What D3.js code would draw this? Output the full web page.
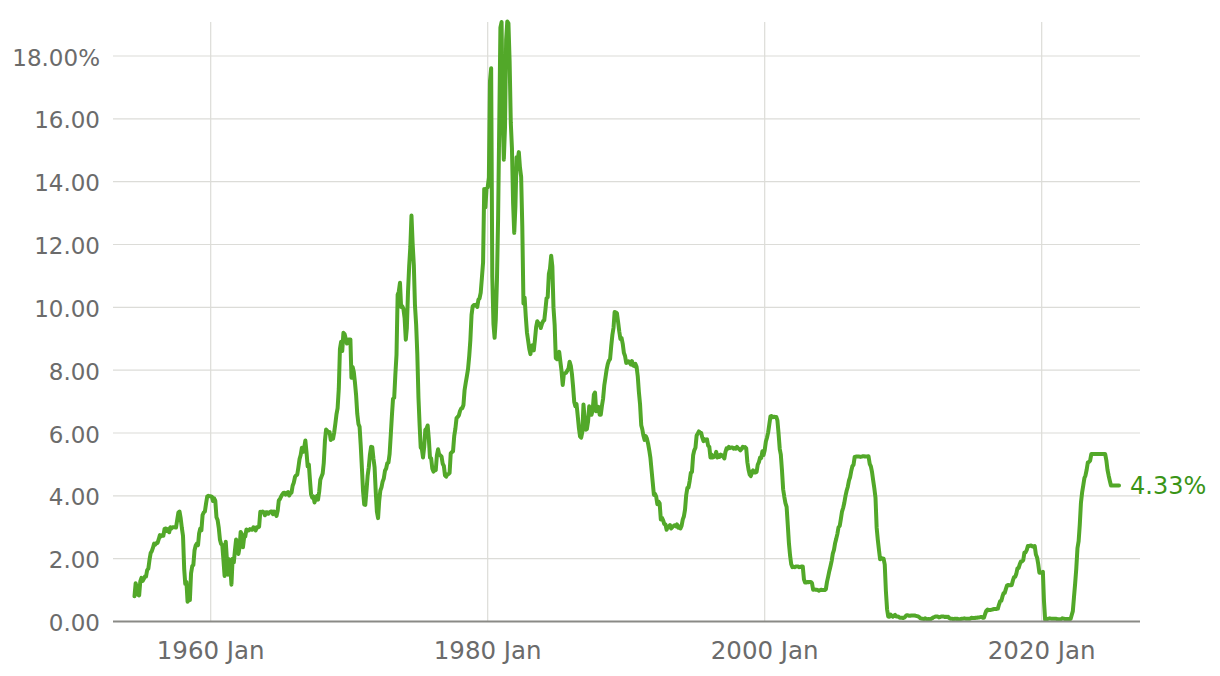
<!DOCTYPE html>
<html><head><meta charset="utf-8">
<script src="https://cdn.jsdelivr.net/npm/d3@7"></script>
<style>
html,body{margin:0;padding:0;background:#fff;}
svg{display:block;}
text{font-family:"DejaVu Sans",sans-serif;}
</style></head>
<body>
<svg id="chart" width="1220" height="676"></svg>
<script>
// Effective federal funds rate, monthly, starting July 1954
const startMonth = "1954-07";
const rates1950s = [
 0.80,1.22,1.07,0.85,0.83,1.28,
 1.39,1.29,1.35,1.43,1.43,1.64,1.68,1.96,2.18,2.24,2.35,2.48,
 2.45,2.50,2.50,2.62,2.75,2.71,2.75,2.73,2.95,2.96,2.88,2.94,
 2.84,3.00,2.96,3.00,3.00,3.00,2.99,3.24,3.47,3.50,3.28,2.98,
 2.72,1.67,1.20,1.26,0.63,0.93,0.68,1.53,1.76,1.80,2.27,2.42,
 2.48,2.43,2.80,2.96,2.90,3.39,3.47,3.50,3.76,3.98,4.00,3.99];
const rates1960s = [
 3.99,3.97,3.84,3.92,3.85,3.32,3.23,2.98,2.60,2.47,2.44,1.98,
 1.45,2.54,2.02,1.49,1.98,1.73,1.17,2.00,1.88,2.26,2.61,2.33,
 2.15,2.37,2.85,2.78,2.36,2.68,2.71,2.93,2.90,2.90,2.94,2.93,
 2.92,3.00,2.98,2.90,3.00,2.99,3.02,3.49,3.48,3.50,3.48,3.38,
 3.48,3.48,3.43,3.47,3.50,3.50,3.42,3.50,3.45,3.36,3.52,3.85,
 3.90,3.98,4.04,4.09,4.10,4.04,4.09,4.12,4.01,4.08,4.10,4.32,
 4.42,4.60,4.65,4.67,4.90,5.17,5.30,5.53,5.40,5.53,5.76,5.40,
 4.94,5.00,4.53,4.05,3.94,3.98,3.79,3.90,3.99,3.88,4.13,4.51,
 4.61,4.71,5.05,5.76,6.11,6.07,6.02,6.03,5.78,5.91,5.82,6.02,
 6.30,6.61,6.79,7.41,8.67,8.90,8.61,9.19,9.15,9.00,8.85,8.97];
const rates1970s = [
 8.98,8.98,7.76,8.10,7.95,7.61,7.21,6.61,6.29,6.20,5.60,4.90,
 4.14,3.72,3.71,4.16,4.63,4.91,5.31,5.56,5.55,5.20,4.91,4.14,
 3.50,3.29,3.83,4.17,4.27,4.46,4.55,4.80,4.87,5.04,5.06,5.33,
 5.94,6.58,7.09,7.12,7.84,8.49,10.40,10.50,10.78,10.01,10.03,9.95,
 9.65,8.97,9.35,10.51,11.31,11.93,12.92,12.01,11.34,10.06,9.45,8.53,
 7.13,6.24,5.54,5.49,5.22,5.55,6.10,6.14,6.24,5.82,5.22,5.20,
 4.87,4.77,4.84,4.82,5.29,5.48,5.31,5.29,5.25,5.02,4.95,4.65,
 4.61,4.68,4.69,4.73,5.35,5.39,5.42,5.90,6.14,6.47,6.51,6.56,
 6.70,6.78,6.79,6.89,7.36,7.60,7.81,8.04,8.45,8.96,9.76,10.03,
 10.07,10.06,10.09,10.01,10.24,10.29,10.47,10.94,11.43,13.77,13.18,13.78];
const rates1980s = [
 13.82,14.13,17.19,17.61,10.98,9.47,9.03,9.61,10.87,12.81,15.85,18.90,
 19.08,15.93,14.70,15.72,18.52,19.10,19.04,17.82,15.87,15.08,13.31,12.37,
 13.22,14.78,14.68,14.94,14.45,14.15,12.59,10.12,10.31,9.71,9.20,8.95,
 8.68,8.51,8.77,8.80,8.63,8.98,9.37,9.56,9.45,9.48,9.34,9.47,
 9.56,9.59,9.91,10.29,10.32,11.06,11.23,11.64,11.30,9.99,9.43,8.38,
 8.35,8.50,8.58,8.27,7.97,7.53,7.88,7.90,7.92,7.99,8.05,8.27,
 8.14,7.86,7.48,6.99,6.85,6.92,6.56,6.17,5.89,5.85,6.04,6.91,
 6.43,6.10,6.13,6.37,6.85,6.73,6.58,6.73,7.22,7.29,6.69,6.77,
 6.83,6.58,6.58,6.87,7.09,7.51,7.75,8.01,8.19,8.30,8.35,8.76,
 9.12,9.36,9.85,9.84,9.81,9.53,9.24,8.99,9.02,8.84,8.55,8.45];
const rates1990s = [
 8.23,8.24,8.28,8.26,8.18,8.29,8.15,8.13,8.20,8.11,7.81,7.31,
 6.91,6.25,6.12,5.91,5.78,5.90,5.82,5.66,5.45,5.21,4.81,4.43,
 4.03,4.06,3.98,3.73,3.82,3.76,3.25,3.30,3.22,3.10,3.09,2.92,
 3.02,3.03,3.07,2.96,3.00,3.04,3.06,3.03,3.09,2.99,3.02,2.96,
 3.05,3.25,3.34,3.56,4.01,4.25,4.26,4.47,4.73,4.76,5.29,5.45,
 5.53,5.92,5.98,6.05,6.01,6.00,5.85,5.74,5.80,5.76,5.80,5.60,
 5.56,5.22,5.31,5.22,5.24,5.27,5.40,5.22,5.30,5.24,5.31,5.29,
 5.25,5.19,5.39,5.51,5.50,5.56,5.52,5.54,5.54,5.50,5.52,5.50,
 5.56,5.51,5.49,5.45,5.49,5.56,5.54,5.55,5.51,5.07,4.83,4.68,
 4.63,4.76,4.81,4.74,4.74,4.76,4.99,5.07,5.22,5.20,5.42,5.30];
const rates2000s = [
 5.45,5.73,5.85,6.02,6.27,6.53,6.54,6.50,6.52,6.51,6.51,6.40,
 5.98,5.49,5.31,4.80,4.21,3.97,3.77,3.65,3.07,2.49,2.09,1.82,
 1.73,1.74,1.73,1.75,1.75,1.75,1.73,1.74,1.75,1.75,1.34,1.24,
 1.24,1.26,1.25,1.26,1.26,1.22,1.01,1.03,1.01,1.01,1.00,0.98,
 1.00,1.01,1.00,1.00,1.00,1.03,1.26,1.43,1.61,1.76,1.93,2.16,
 2.28,2.50,2.63,2.79,3.00,3.04,3.26,3.50,3.62,3.78,4.00,4.16,
 4.29,4.49,4.59,4.79,4.94,4.99,5.24,5.25,5.25,5.25,5.25,5.24,
 5.25,5.26,5.26,5.25,5.25,5.25,5.26,5.02,4.94,4.76,4.49,4.24,
 3.94,2.98,2.61,2.28,1.98,2.00,2.01,2.00,1.81,0.97,0.39,0.16,
 0.15,0.22,0.18,0.15,0.18,0.21,0.16,0.16,0.15,0.12,0.12,0.12];
const rates2010s = [
 0.11,0.13,0.16,0.20,0.20,0.18,0.18,0.19,0.19,0.19,0.19,0.18,
 0.17,0.16,0.14,0.10,0.09,0.09,0.07,0.10,0.08,0.07,0.08,0.07,
 0.08,0.10,0.13,0.14,0.16,0.16,0.16,0.13,0.14,0.16,0.16,0.16,
 0.14,0.15,0.14,0.15,0.11,0.09,0.09,0.08,0.08,0.09,0.08,0.09,
 0.07,0.07,0.08,0.09,0.09,0.10,0.09,0.09,0.09,0.09,0.09,0.12,
 0.11,0.11,0.11,0.12,0.12,0.13,0.13,0.14,0.14,0.12,0.12,0.24,
 0.34,0.38,0.36,0.37,0.37,0.38,0.39,0.40,0.40,0.40,0.41,0.54,
 0.65,0.66,0.79,0.90,0.91,1.04,1.15,1.16,1.15,1.15,1.16,1.30,
 1.41,1.42,1.51,1.69,1.70,1.82,1.91,1.91,1.95,2.19,2.20,2.27,
 2.40,2.40,2.41,2.42,2.39,2.38,2.40,2.13,2.04,1.83,1.55,1.55];
const rates2020s = [
 1.55,1.58,0.65,0.05,0.05,0.08,0.09,0.10,0.09,0.09,0.09,0.09,
 0.09,0.08,0.07,0.07,0.06,0.08,0.10,0.09,0.08,0.08,0.08,0.08,
 0.08,0.08,0.20,0.33,0.77,1.21,1.68,2.33,2.56,3.08,3.78,4.10,
 4.33,4.57,4.65,4.83,5.06,5.08,5.12,5.33,5.33,5.33,5.33,5.33,
 5.33,5.33,5.33,5.33,5.33,5.33,5.33,5.33,5.13,4.83,4.64,4.48,
 4.33,4.33,4.33,4.33,4.33,4.33,4.33,4.33];

const yTicks = [0,2,4,6,8,10,12,14,16,18];
const yTickLabels = ["0.00","2.00","4.00","6.00","8.00","10.00","12.00","14.00","16.00","18.00%"];
const xTickYears = [1960,1980,2000,2020];
const xTickLabels = ["1960 Jan","1980 Jan","2000 Jan","2020 Jan"];
const lastLabel = "4.33%";

const values = [].concat(rates1950s,rates1960s,rates1970s,rates1980s,rates1990s,rates2000s,rates2010s,rates2020s);
const parseMonth = d3.timeParse("%Y-%m");
const t0 = parseMonth(startMonth);
const data = values.map((v,i)=>({date:d3.timeMonth.offset(t0,i), value:v}));

const svg = d3.select("#chart");
const plotLeft = 113, plotRight = 1140, plotTop = 22, plotBottom = 621.5;

const x = d3.scaleTime()
  .domain([new Date(1960,0,1), new Date(2020,0,1)])
  .range([210.7, 1041.7]);
const y = d3.scaleLinear().domain([0,18]).range([621.5, 56]);

// horizontal gridlines
svg.append("g").selectAll("line").data(yTicks.filter(d=>d>0)).join("line")
  .attr("x1",plotLeft).attr("x2",plotRight)
  .attr("y1",d=>y(d)).attr("y2",d=>y(d))
  .attr("stroke","#dcdcd8").attr("stroke-width",1.2);

// vertical gridlines
svg.append("g").selectAll("line").data(xTickYears).join("line")
  .attr("x1",d=>x(new Date(d,0,1))).attr("x2",d=>x(new Date(d,0,1)))
  .attr("y1",plotTop).attr("y2",plotBottom)
  .attr("stroke","#dcdcd8").attr("stroke-width",1.2);

// y labels
svg.append("g").selectAll("text").data(yTicks).join("text")
  .attr("x",100).attr("y",d=>y(d)+9.5)
  .attr("text-anchor","end")
  .attr("font-size",23).attr("fill","#6b6b6b")
  .text((d,i)=>yTickLabels[i]);

// x labels
svg.append("g").selectAll("text").data(xTickYears).join("text")
  .attr("x",d=>x(new Date(d,0,1))).attr("y",659)
  .attr("text-anchor","middle")
  .attr("font-size",24.5).attr("fill","#6b6b6b")
  .text((d,i)=>xTickLabels[i]);

// line
const line = d3.line().x(d=>x(d.date)).y(d=>y(d.value));
svg.append("path").datum(data)
  .attr("d",line).attr("fill","none")
  .attr("stroke","#52a829").attr("stroke-width",4)
  .attr("stroke-linejoin","round").attr("stroke-linecap","round");

// baseline axis
svg.append("line")
  .attr("x1",plotLeft).attr("x2",plotRight)
  .attr("y1",y(0)).attr("y2",y(0))
  .attr("stroke","#8a8a86").attr("stroke-width",2);

// end label
const last = data[data.length-1];
svg.append("text")
  .attr("x",x(last.date)+11).attr("y",y(last.value)+8.5)
  .attr("font-size",24).attr("fill","#3a9416")
  .text(lastLabel);
</script>
</body></html>
